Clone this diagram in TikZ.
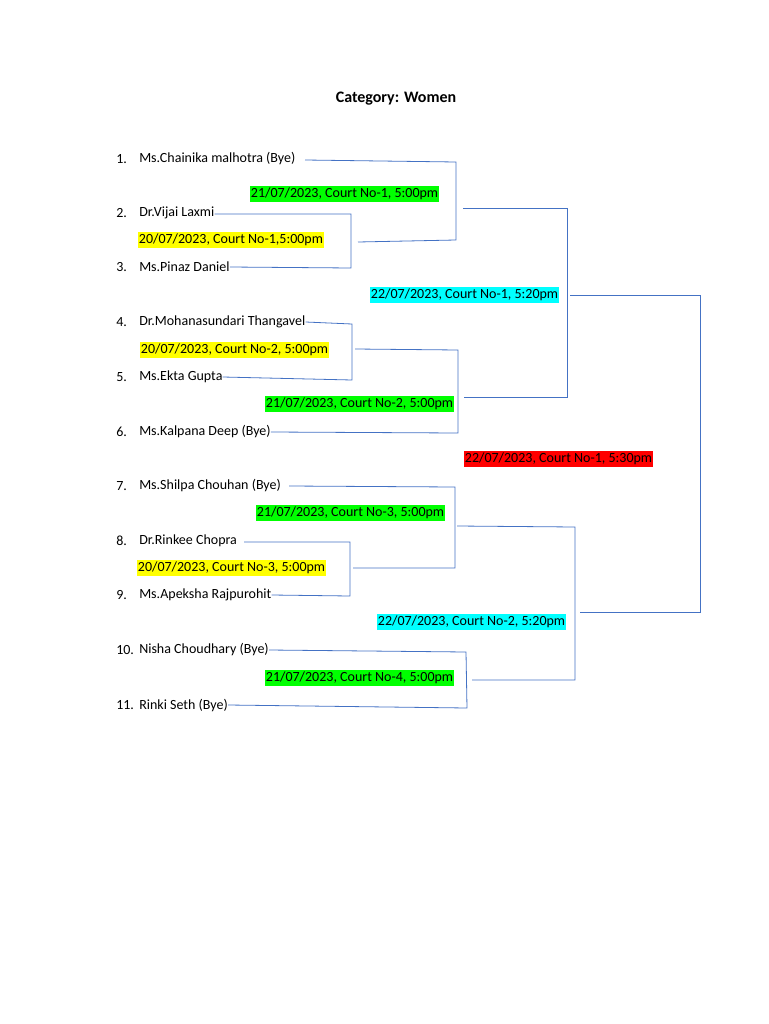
\documentclass[tikz,border=0pt]{standalone}
\usepackage{fontspec}
\setmainfont{Carlito}
\definecolor{hgreen}{RGB}{0,255,0}
\definecolor{hyellow}{RGB}{255,255,0}
\definecolor{hcyan}{RGB}{0,255,255}
\definecolor{hred}{RGB}{255,0,0}
\definecolor{lineblue}{RGB}{68,114,196}
\begin{document}
\begin{tikzpicture}[x=0.75pt,y=-0.75pt,
  txt/.style={anchor=west,inner sep=0pt,font=\fontsize{10.5}{12}\selectfont},
  lbl/.style={anchor=west,inner xsep=0.5pt,inner ysep=1.5pt,font=\fontsize{10.5}{12}\selectfont},
  br/.style={draw=lineblue,line width=0.6pt}]
\useasboundingbox (0,0) rectangle (768,1024);
\node[anchor=center,inner sep=0pt,font=\bfseries\fontsize{12}{14}\selectfont] (title) at (396,99) {Category: Women};
% players
\foreach \n/\y/\t [count=\i] in {1./159/Ms.Chainika malhotra (Bye),2./213/Dr.Vijai Laxmi,3./267/Ms.Pinaz Daniel,4./322/Dr.Mohanasundari Thangavel,5./377/Ms.Ekta Gupta,6./432/Ms.Kalpana Deep (Bye),7./486/Ms.Shilpa Chouhan (Bye),8./541/Dr.Rinkee Chopra,9./595/Ms.Apeksha Rajpurohit,10./650/Nisha Choudhary (Bye),11./705/Rinki Seth (Bye)}{
  \node[txt] (n\i) at (116,\y) {\n};
  \node[txt] (p\i) at (139,\y) {\t};
}
% labels
\node[lbl,fill=hgreen] (g1) at (250,194) {21/07/2023, Court No-1, 5:00pm};
\node[lbl,fill=hyellow] (y1) at (138,240) {20/07/2023, Court No-1,5:00pm};
\node[lbl,fill=hcyan] (c1) at (370,295) {22/07/2023, Court No-1, 5:20pm};
\node[lbl,fill=hyellow] (y2) at (140,350) {20/07/2023, Court No-2, 5:00pm};
\node[lbl,fill=hgreen] (g2) at (265,404) {21/07/2023, Court No-2, 5:00pm};
\node[lbl,fill=hred] (r1) at (464,459) {22/07/2023, Court No-1, 5:30pm};
\node[lbl,fill=hgreen] (g3) at (256,513) {21/07/2023, Court No-3, 5:00pm};
\node[lbl,fill=hyellow] (y3) at (137,568) {20/07/2023, Court No-3, 5:00pm};
\node[lbl,fill=hcyan] (c2) at (377,622) {22/07/2023, Court No-2, 5:20pm};
\node[lbl,fill=hgreen] (g4) at (265,678) {21/07/2023, Court No-4, 5:00pm};
% brackets
\draw[br] (305,160) -- (456,162) -- (456,240) -- (358,242);
\draw[br] (p2.east)++(0,1) -- (351,214) -- (351,268) -- (p3.east);
\draw[br] (463,208) -- (567,208) -- (567,397) -- (464,397);
\draw[br] (p4.east) -- (352,324) -- (352,380) -- (p5.east);
\draw[br] (355,349) -- (458,350) -- (458,433) -- (p6.east);
\draw[br] (570,295) -- (700,295) -- (700,612) -- (580,612);
\draw[br] (289,486) -- (455,487) -- (455,568) -- (353,568);
\draw[br] (244,542) -- (350,542) -- (350,596) -- (p9.east);
\draw[br] (457,526) -- (575,527) -- (575,680) -- (472,680);
\draw[br] (p10.east) -- (466,652) -- (467,708) -- (p11.east);
\end{tikzpicture}
\end{document}
